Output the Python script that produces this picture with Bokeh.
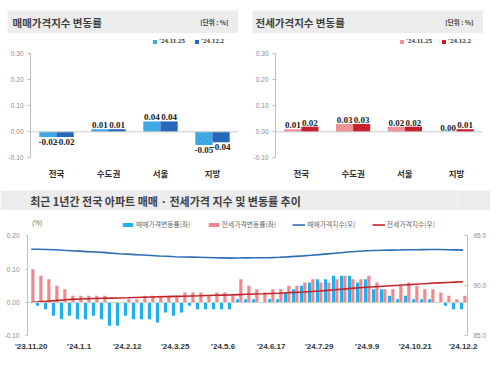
from bokeh.plotting import figure
from bokeh.models import (ColumnDataSource, FactorRange, Range1d, LinearAxis, FixedTicker,
                          NumeralTickFormatter, Span, Legend, LegendItem, Label, Spacer)
from bokeh.layouts import column, row
from bokeh.transform import dodge
from bokeh.core.properties import value
from bokeh.embed import file_html
from bokeh.resources import INLINE

# ---------------- data ----------------
regions = ["전국", "수도권", "서울", "지방"]
top_dates = ["'24.11.25", "'24.12.2"]
sale_1125 = [-0.02, 0.01, 0.04, -0.05]
sale_1202 = [-0.02, 0.01, 0.04, -0.04]
jeonse_1125 = [0.01, 0.03, 0.02, 0.00]
jeonse_1202 = [0.02, 0.03, 0.02, 0.01]

week_tick_pos = [0, 6, 12, 18, 24, 30, 36, 42, 48, 54]
week_tick_labels = ["'23.11.20", "'24.1.1", "'24.2.12", "'24.3.25", "'24.5.6",
                    "'24.6.17", "'24.7.29", "'24.9.9", "'24.10.21", "'24.12.2"]
bottom_series = ["매매가격변동률(좌)", "전세가격변동률(좌)", "매매가격지수(우)", "전세가격지수(우)"]

sale_chg = [0.00, -0.01, -0.02, -0.04, -0.05, -0.04, -0.05, -0.05, -0.04, -0.05,
            -0.07, -0.07, -0.04, -0.05, -0.05, -0.05, -0.06, -0.03, -0.04, -0.03,
            -0.01, -0.02, -0.02, -0.02, -0.02, -0.02, 0.01, 0.01, 0.01, 0.00,
            0.01, 0.01, 0.03, 0.04, 0.05, 0.06, 0.07, 0.07, 0.08, 0.08,
            0.08, 0.06, 0.07, 0.04, 0.04, 0.02, 0.01, 0.02, 0.01, 0.01,
            0.01, 0.00, -0.01, -0.02, -0.02]
jeonse_chg = [0.10, 0.08, 0.07, 0.05, 0.04, 0.02, 0.02, 0.02, 0.02, 0.02,
              0.00, 0.00, 0.01, 0.01, 0.02, 0.02, 0.02, 0.02, 0.02, 0.03,
              0.03, 0.03, 0.02, 0.03, 0.03, 0.02, 0.07, 0.05, 0.04, 0.03,
              0.04, 0.04, 0.05, 0.05, 0.06, 0.07, 0.06, 0.06, 0.07, 0.08,
              0.07, 0.07, 0.08, 0.06, 0.04, 0.04, 0.05, 0.06, 0.05, 0.04,
              0.04, 0.03, 0.02, 0.01, 0.02]
sale_idx = [93.66, 93.65, 93.63, 93.60, 93.55, 93.51, 93.47, 93.42, 93.38, 93.34,
            93.27, 93.21, 93.17, 93.12, 93.08, 93.03, 92.98, 92.95, 92.91, 92.88,
            92.87, 92.85, 92.83, 92.81, 92.79, 92.77, 92.78, 92.79, 92.80, 92.80,
            92.82, 92.85, 92.89, 92.94, 92.99, 93.05, 93.12, 93.19, 93.26, 93.33,
            93.40, 93.45, 93.50, 93.53, 93.55, 93.57, 93.58, 93.60, 93.61, 93.62,
            93.63, 93.63, 93.61, 93.59, 93.57]
jeonse_idx = [88.33, 88.40, 88.46, 88.52, 88.58, 88.64, 88.68, 88.71, 88.73, 88.75,
              88.77, 88.78, 88.80, 88.83, 88.86, 88.88, 88.90, 88.92, 88.94, 88.96,
              88.98, 89.00, 89.03, 89.05, 89.07, 89.09, 89.12, 89.15, 89.18, 89.20,
              89.23, 89.26, 89.30, 89.34, 89.38, 89.43, 89.48, 89.54, 89.60, 89.67,
              89.74, 89.80, 89.86, 89.91, 89.96, 90.01, 90.06, 90.11, 90.16, 90.20,
              90.25, 90.29, 90.33, 90.37, 90.40]

KR = "Noto Sans CJK KR"
NUM = "Liberation Sans Narrow"
AX = "Liberation Sans"
SALE_BAR, JEONSE_BAR = "#1fb0ea", "#f2878d"
SALE_LINE, JEONSE_LINE = "#2f6db5", "#c0252c"


def title_bar(w, h, text, size, unit=None, tx=4, ux=None):
    t = figure(width=w, height=h, x_range=Range1d(0, w), y_range=Range1d(0, h),
               x_axis_type=None, y_axis_type=None, min_border=0,
               toolbar_location=None, output_backend="svg",
               background_fill_color="#ececec", border_fill_color="#ececec",
               outline_line_color=None)
    t.add_layout(Label(x=tx, y=h / 2, text=text, text_font=KR, text_font_size=size,
                       text_font_style="bold", text_color="#404040",
                       text_baseline="middle", text_align="left"))
    if unit:
        t.add_layout(Label(x=ux, y=h / 2, text=unit, text_font=KR, text_font_size="6.5px",
                           text_font_style="bold", text_color="#404040",
                           text_baseline="middle", text_align="right"))
    return t


def top_panel(v1, v2, c1, c2, h1, h2, left, right, lx):
    src = ColumnDataSource(dict(cat=regions, a=v1, b=v2))
    p = figure(x_range=FactorRange(factors=regions, range_padding=0, factor_padding=0),
               y_range=Range1d(-0.102, 0.369), width=left + 208 + right, height=150,
               min_border_left=left, min_border_right=right, min_border_top=2,
               min_border_bottom=25, toolbar_location=None, output_backend="svg",
               outline_line_color=None)
    p.grid.visible = False
    p.add_layout(Span(location=0, dimension="width", line_color="#c9c9c9", line_width=1))
    ra = p.vbar(x=dodge("cat", -0.165, range=p.x_range), top="a", width=0.33, source=src,
                fill_color=c1, line_color=None, hatch_pattern="/", hatch_color=h1,
                hatch_scale=5, hatch_weight=0.8, hatch_alpha=0.6)
    rb = p.vbar(x=dodge("cat", 0.165, range=p.x_range), top="b", width=0.33, source=src,
                fill_color=c2, line_color=None, hatch_pattern="/", hatch_color=h2,
                hatch_scale=5, hatch_weight=0.8, hatch_alpha=0.6)
    for vals, off in ((v1, -0.165), (v2, 0.165)):
        for positive in (True, False):
            sel = [(c, v) for c, v in zip(regions, vals) if (v >= 0) == positive]
            s = ColumnDataSource(dict(cat=[c for c, _ in sel], v=[v for _, v in sel],
                                      t=[f"{v:.2f}" for _, v in sel]))
            p.text(x=dodge("cat", off, range=p.x_range), y="v", text="t", source=s,
                   text_align="center", text_baseline="bottom" if positive else "top",
                   y_offset=-1 if positive else 2, text_font=value(NUM),
                   text_font_size="9px", text_font_style="bold", text_color="#222222")
    leg = Legend(items=[LegendItem(label=top_dates[0], renderers=[ra]),
                        LegendItem(label=top_dates[1], renderers=[rb])],
                 orientation="horizontal", location=(lx, 113), glyph_width=5, glyph_height=5,
                 label_standoff=2, spacing=9, padding=0, margin=0, border_line_color=None,
                 background_fill_alpha=0, label_text_font=NUM, label_text_font_size="7px",
                 label_text_font_style="bold", label_text_color="#333333", label_height=8)
    p.add_layout(leg)
    xa = p.xaxis[0]
    xa.axis_line_color = None
    xa.major_tick_line_color = None
    xa.major_tick_out = 0
    xa.major_tick_in = 0
    xa.major_label_text_font = KR
    xa.major_label_text_font_size = "8.5px"
    xa.major_label_text_font_style = "bold"
    xa.major_label_text_color = "#333333"
    xa.major_label_standoff = 8
    ya = p.yaxis[0]
    ya.ticker = FixedTicker(ticks=[-0.1, 0, 0.1, 0.2, 0.3])
    ya.formatter = NumeralTickFormatter(format="0.00")
    ya.bounds = (-0.1, 0.3)
    ya.axis_line_color = "#bfbfbf"
    ya.major_tick_line_color = "#bfbfbf"
    ya.major_tick_out = 3
    ya.major_tick_in = 0
    ya.minor_tick_line_color = None
    ya.major_label_text_font = AX
    ya.major_label_text_font_size = "6.5px"
    ya.major_label_text_color = "#8a8a8a"
    ya.major_label_standoff = 4
    return p


tA = title_bar(231, 23, "매매가격지수 변동률", "10.5px", "[단위 : %]", tx=5, ux=221)
tB = title_bar(231, 23, "전세가격지수 변동률", "10.5px", "[단위 : %]", tx=3, ux=221)
pA = top_panel(sale_1125, sale_1202, "#2b9fe0", "#1b5fb5", "#8fd0f5", "#4f8fd6", 30, 12, 122)
pB = top_panel(jeonse_1125, jeonse_1202, "#f2848b", "#c4121f", "#fbc4c7", "#e0565e", 24, 18, 124)

weeks = list(range(len(sale_chg)))
bsrc = ColumnDataSource(dict(w=weeks, s=sale_chg, j=jeonse_chg, si=sale_idx, ji=jeonse_idx))

# ---------------- bottom chart: header with unit + legend ----------------
hdr = figure(width=500, height=19, x_range=Range1d(0, 500), y_range=Range1d(0, 19),
             x_axis_type=None, y_axis_type=None, min_border=0, toolbar_location=None,
             output_backend="svg", outline_line_color=None)
hdr.extra_y_ranges = {"off": Range1d(1000, 1001)}
hdr.add_layout(Label(x=11, y=7, text="(%)", text_font=AX, text_font_size="6.5px",
                     text_color="#707070", text_align="center", text_baseline="middle"))
# legend keys: same series drawn on an off-screen range of the header
k1 = hdr.vbar(x="w", top="s", width=0.4, source=bsrc, y_range_name="off",
              fill_color=SALE_BAR, line_color=None)
k2 = hdr.vbar(x="w", top="j", width=0.4, source=bsrc, y_range_name="off",
              fill_color=JEONSE_BAR, line_color=None)
k3 = hdr.line("w", "si", source=bsrc, y_range_name="off", line_color=SALE_LINE, line_width=1.6)
k4 = hdr.line("w", "ji", source=bsrc, y_range_name="off", line_color=JEONSE_LINE, line_width=1.6)
bl = Legend(items=[LegendItem(label=lbl, renderers=[r])
                   for lbl, r in zip(bottom_series, [k1, k2, k3, k4])],
            orientation="horizontal", location=(94, 0), glyph_width=13, glyph_height=5,
            label_standoff=2, spacing=16, padding=0, margin=0, border_line_color=None,
            background_fill_alpha=0, label_text_font=KR, label_text_font_size="6.8px",
            label_text_color="#6a6a6a", label_height=8)
hdr.add_layout(bl)

# ---------------- bottom chart ----------------
b = figure(x_range=Range1d(-0.46, 54.54), y_range=Range1d(-0.105, 0.219),
           width=500, height=133, min_border_left=27, min_border_right=33,
           min_border_top=0, min_border_bottom=25, toolbar_location=None,
           output_backend="svg", outline_line_color=None)
b.extra_y_ranges = {"idx": Range1d(84.83, 95.63)}
b.grid.visible = False
b.add_layout(Span(location=0, dimension="width", line_color="#d0d0d0", line_width=1))
b.vbar(x=dodge("w", -0.21), top="s", width=0.4, source=bsrc,
       fill_color=SALE_BAR, line_color=None)
b.vbar(x=dodge("w", 0.21), top="j", width=0.4, source=bsrc,
       fill_color=JEONSE_BAR, line_color=None)
b.line("w", "si", source=bsrc, y_range_name="idx", line_color=SALE_LINE, line_width=1.6)
b.line("w", "ji", source=bsrc, y_range_name="idx", line_color=JEONSE_LINE, line_width=1.6)

bx = b.xaxis[0]
bx.ticker = FixedTicker(ticks=week_tick_pos)
bx.major_label_overrides = {p: l for p, l in zip(week_tick_pos, week_tick_labels)}
bx.axis_line_color = None
bx.major_tick_line_color = None
bx.major_tick_out = 0
bx.major_tick_in = 0
bx.minor_tick_line_color = None
bx.major_label_text_font = AX
bx.major_label_text_font_size = "8px"
bx.major_label_text_font_style = "bold"
bx.major_label_text_color = "#333333"
bx.major_label_standoff = 4

by = b.yaxis[0]
by.ticker = FixedTicker(ticks=[-0.1, 0, 0.1, 0.2])
by.formatter = NumeralTickFormatter(format="0.00")
by.bounds = (-0.1, 0.2)
by.axis_line_color = "#bfbfbf"
by.major_tick_line_color = "#bfbfbf"
by.major_tick_out = 2
by.major_tick_in = 0
by.minor_tick_line_color = None
by.major_label_text_font = AX
by.major_label_text_font_size = "6.5px"
by.major_label_text_color = "#8a8a8a"
by.major_label_standoff = 6

ry = LinearAxis(y_range_name="idx", ticker=FixedTicker(ticks=[85, 90, 95]),
                formatter=NumeralTickFormatter(format="0.0"), bounds=(85, 95))
ry.axis_line_color = "#bfbfbf"
ry.major_tick_line_color = "#bfbfbf"
ry.major_tick_out = 0
ry.major_tick_in = 3
ry.minor_tick_line_color = None
ry.major_label_text_font = AX
ry.major_label_text_font_size = "6.5px"
ry.major_label_text_color = "#8a8a8a"
ry.major_label_standoff = 6
b.add_layout(ry, "right")

tC = title_bar(490, 20, "최근 1년간 전국 아파트 매매 · 전세가격 지수 및 변동률 추이", "11px", tx=3)

layout = column(Spacer(height=10),
                row(Spacer(width=7), tA, Spacer(width=14), tB),
                row(pA, pB),
                Spacer(height=7),
                tC,
                hdr,
                b)

open("out.html", "w").write(file_html(layout, INLINE))
